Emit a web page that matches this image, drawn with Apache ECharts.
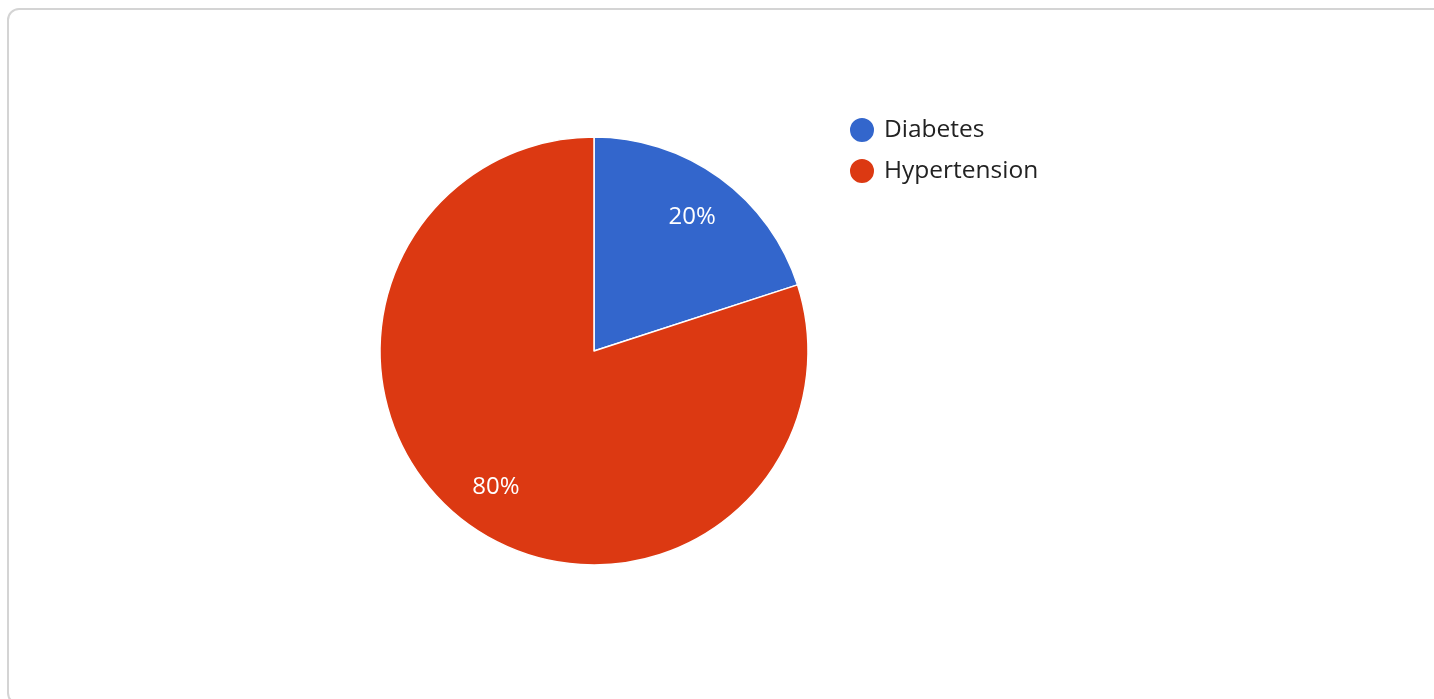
<!DOCTYPE html>
<html>
<head>
<meta charset="utf-8">
<script src="https://cdn.jsdelivr.net/npm/echarts@6/dist/echarts.min.js"></script>
<style>
html,body{margin:0;padding:0;background:#fff;overflow:hidden;}
#card{position:absolute;left:7px;top:8px;width:1460px;height:697px;border:2px solid #d4d4d4;border-radius:12px;box-sizing:border-box;}
#chart{position:absolute;left:0;top:0;width:1434px;height:699px;}
</style>
</head>
<body>
<div id="card"></div>
<div id="chart"></div>
<script>
const categories = ['Diabetes', 'Hypertension'];
const values = [20, 80];
const colors = ['#3366cc', '#dc3912'];

const data = categories.map((c, i) => ({ name: c, value: values[i] }));
const chart = echarts.init(document.getElementById('chart'), null, { renderer: 'canvas' });
chart.setOption({
  animation: false,
  color: colors,
  textStyle: { fontFamily: 'Open Sans' },
  legend: {
    orient: 'vertical',
    left: 848,
    top: 116,
    padding: 0,
    icon: 'circle',
    itemWidth: 26,
    itemHeight: 26,
    itemGap: 13,
    data: categories,
    textStyle: { fontFamily: 'Open Sans', fontSize: 24.5, color: '#222222', padding: [0, 0, 0, 4] }
  },
  series: [
    {
      type: 'pie',
      center: [594, 351],
      radius: [0, 214],
      startAngle: 90,
      clockwise: true,
      data: data,
      label: { show: false },
      labelLine: { show: false },
      itemStyle: { borderColor: '#ffffff', borderWidth: 1.5 },
      emphasis: { disabled: true }
    },
    {
      type: 'pie',
      center: [594, 352],
      radius: [114, 214],
      startAngle: 90,
      clockwise: true,
      silent: true,
      data: data,
      itemStyle: { color: 'transparent', borderWidth: 0 },
      label: {
        show: true,
        position: 'inside',
        formatter: p => Math.round(p.percent) + '%',
        color: '#ffffff',
        fontSize: 24,
        fontFamily: 'Open Sans'
      },
      labelLine: { show: false },
      emphasis: { disabled: true }
    }
  ]
});
</script>
</body>
</html>
